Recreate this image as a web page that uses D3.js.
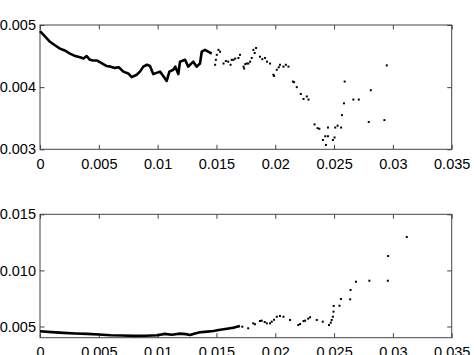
<!DOCTYPE html>
<html>
<head>
<meta charset="utf-8">
<script src="https://cdn.jsdelivr.net/npm/d3@7"></script>
<style>
  body { margin: 0; background: #fff; }
  svg { display: block; }
  .tick text { font-family: "Liberation Sans", Arial, sans-serif; font-size: 14.5px; fill: #000; }
  .tick line { stroke: #444; }
</style>
</head>
<body>
<svg id="chart" width="474" height="355"></svg>
<script>
// x ticks shared by both panels
var xTicks = [0, 0.005, 0.01, 0.015, 0.02, 0.025, 0.03, 0.035];
var xTickLabels = ["0", "0.005", "0.01", "0.015", "0.02", "0.025", "0.03", "0.035"];

// top panel
var topYTicks = [0.003, 0.004, 0.005];
var topYTickLabels = ["0.003", "0.004", "0.005"];
var topLine = [
    [0, 0.00490], [0.0004, 0.00482], [0.00085, 0.00473], [0.0013, 0.00467], [0.0017, 0.00462],
    [0.0021, 0.00459], [0.00255, 0.00454], [0.003, 0.00450], [0.0034, 0.00448], [0.0037, 0.00446],
    [0.00397, 0.00450], [0.00425, 0.00444], [0.0045, 0.00443], [0.00482, 0.00443], [0.0052, 0.00439],
    [0.00567, 0.00434], [0.006, 0.00433], [0.00638, 0.00431], [0.0067, 0.00432], [0.00708, 0.00425],
    [0.0075, 0.00422], [0.0078, 0.00416], [0.008, 0.00418], [0.00822, 0.00420], [0.0085, 0.00425],
    [0.00878, 0.00433], [0.0091, 0.00436], [0.00935, 0.00434], [0.00963, 0.00421], [0.0099, 0.00423],
    [0.0102, 0.00425], [0.0104, 0.00420], [0.01077, 0.00410], [0.0110, 0.00425], [0.01133, 0.00428],
    [0.0115, 0.00433], [0.01176, 0.00421], [0.0119, 0.00441], [0.01233, 0.00444], [0.0126, 0.00433],
    [0.01303, 0.00441], [0.01332, 0.00433], [0.0136, 0.00438], [0.01375, 0.00457], [0.01403, 0.0046],
    [0.0143, 0.00457], [0.0146, 0.00454]
];
var topDots = [
    [0.01489, 0.00436], [0.01495, 0.00444], [0.01503, 0.00452], [0.01517, 0.0046], [0.01531, 0.00457],
    [0.0156, 0.00438], [0.0158, 0.00442], [0.016, 0.00441], [0.0162, 0.00436], [0.0163, 0.00444],
    [0.01645, 0.00444], [0.0166, 0.00446], [0.01687, 0.00447], [0.0170, 0.00452], [0.0173, 0.00433],
    [0.01735, 0.0043], [0.01745, 0.00437], [0.01758, 0.00438], [0.01771, 0.00438], [0.01786, 0.00441],
    [0.018, 0.00447], [0.01814, 0.0046], [0.01825, 0.00455], [0.01837, 0.00463], [0.0187, 0.00449],
    [0.0189, 0.00445], [0.01913, 0.00447], [0.0193, 0.00441], [0.01956, 0.00438], [0.01984, 0.0042],
    [0.0199, 0.00418], [0.02013, 0.00428], [0.0203, 0.00432], [0.0204, 0.00436], [0.0207, 0.00433],
    [0.0209, 0.00436], [0.02112, 0.00433], [0.0215, 0.00409], [0.0216, 0.00408], [0.02183, 0.0040],
    [0.02217, 0.00389], [0.0224, 0.00381], [0.02268, 0.00385], [0.02283, 0.0038], [0.02334, 0.0034],
    [0.0236, 0.00334], [0.02375, 0.00333], [0.02405, 0.00315], [0.02425, 0.00321], [0.02431, 0.00307],
    [0.02448, 0.00321], [0.02448, 0.00335], [0.0249, 0.00315], [0.02504, 0.00319], [0.0251, 0.00335],
    [0.0253, 0.00338], [0.0256, 0.00335], [0.02567, 0.00355], [0.02584, 0.00374], [0.0259, 0.00409],
    [0.02664, 0.0038], [0.0271, 0.0038], [0.02795, 0.00344], [0.02812, 0.00395], [0.02928, 0.00347],
    [0.02948, 0.00435]
];

// bottom panel
var botYTicks = [0.005, 0.010, 0.015];
var botYTickLabels = ["0.005", "0.010", "0.015"];
var botLine = [
    [0, 0.00458], [0.001, 0.00450], [0.002, 0.00443], [0.003, 0.00438], [0.004, 0.00434],
    [0.005, 0.00428], [0.006, 0.00422], [0.007, 0.0042], [0.008, 0.00416], [0.009, 0.00418],
    [0.010, 0.00422], [0.0106, 0.00434], [0.0112, 0.00426], [0.0119, 0.00436], [0.0124, 0.00432],
    [0.01276, 0.00424], [0.0131, 0.00436], [0.0136, 0.00448], [0.014, 0.00452], [0.01474, 0.0046],
    [0.0152, 0.00468], [0.01616, 0.00484], [0.0165, 0.00490], [0.017, 0.00504]
];
var botDots = [
    [0.0172, 0.00498], [0.0177, 0.00484], [0.01813, 0.00528], [0.01828, 0.0052], [0.0187, 0.00549],
    [0.01885, 0.00552], [0.0191, 0.0054], [0.01928, 0.00528], [0.01956, 0.00528], [0.0197, 0.00543],
    [0.0199, 0.0056], [0.02013, 0.00587], [0.0204, 0.00593], [0.0207, 0.00587], [0.02126, 0.00558],
    [0.02196, 0.00513], [0.02211, 0.00522], [0.0224, 0.00548], [0.02254, 0.00552], [0.0228, 0.0057],
    [0.02296, 0.00582], [0.02353, 0.00558], [0.02404, 0.00543], [0.02457, 0.00513], [0.02472, 0.00534],
    [0.0248, 0.00558], [0.0249, 0.00587], [0.02495, 0.00632], [0.02497, 0.00683], [0.02546, 0.00685],
    [0.02558, 0.00745], [0.02637, 0.00742], [0.0264, 0.00825], [0.02686, 0.00899], [0.028, 0.00908],
    [0.02957, 0.00908], [0.0296, 0.01128], [0.03118, 0.01298]
];

var svg = d3.select("#chart");
var left = 40, right = 451.7;

function drawPanel(top, bottom, yDomain, yTicks, yLabels, line, dots) {
    var x = d3.scaleLinear().domain([0, 0.035]).range([left, right]);
    var y = d3.scaleLinear().domain(yDomain).range([bottom, top]);
    var tick = 4.5;

    var g = svg.append("g");

    // box
    g.append("rect")
        .attr("x", left).attr("y", top)
        .attr("width", right - left).attr("height", bottom - top)
        .attr("fill", "none").attr("stroke", "#444").attr("stroke-width", 1);

    g.append("g")
        .attr("transform", "translate(0," + bottom + ")")
        .call(d3.axisBottom(x).tickValues(xTicks).tickSize(-tick).tickSizeOuter(0).tickPadding(9)
            .tickFormat(function (d, i) { return xTickLabels[i]; }))
        .call(function (a) { a.select(".domain").remove(); });

    g.append("g")
        .attr("transform", "translate(0," + top + ")")
        .call(d3.axisTop(x).tickValues(xTicks).tickSize(-tick).tickSizeOuter(0).tickFormat(""))
        .call(function (a) { a.select(".domain").remove(); });

    g.append("g")
        .attr("transform", "translate(" + left + ",0)")
        .call(d3.axisLeft(y).tickValues(yTicks).tickSize(-tick).tickSizeOuter(0).tickPadding(4)
            .tickFormat(function (d, i) { return yLabels[i]; }))
        .call(function (a) { a.select(".domain").remove(); });

    g.append("g")
        .attr("transform", "translate(" + right + ",0)")
        .call(d3.axisRight(y).tickValues(yTicks).tickSize(-tick).tickSizeOuter(0).tickFormat(""))
        .call(function (a) { a.select(".domain").remove(); });

    var lineGen = d3.line()
        .x(function (d) { return x(d[0]); })
        .y(function (d) { return y(d[1]); });

    g.append("path")
        .datum(line)
        .attr("d", lineGen)
        .attr("fill", "none")
        .attr("stroke", "#000")
        .attr("stroke-width", 2.6)
        .attr("stroke-linejoin", "round");

    g.selectAll(".dot")
        .data(dots)
        .enter().append("rect")
        .attr("class", "dot")
        .attr("x", function (d) { return x(d[0]) - 1; })
        .attr("y", function (d) { return y(d[1]) - 1; })
        .attr("width", 2)
        .attr("height", 2)
        .attr("fill", "#000");
}

drawPanel(25, 149.3, [0.003, 0.005], topYTicks, topYTickLabels, topLine, topDots);
drawPanel(214.3, 337.7, [0.004, 0.015], botYTicks, botYTickLabels, botLine, botDots);
</script>
</body>
</html>
